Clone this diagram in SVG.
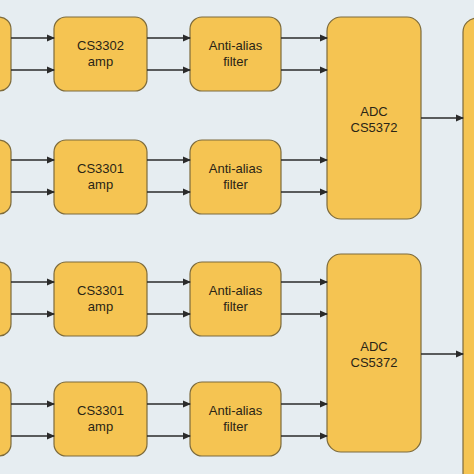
<svg xmlns="http://www.w3.org/2000/svg" width="474" height="474" viewBox="0 0 474 474">
<defs><marker id="a" markerWidth="8" markerHeight="8" refX="7" refY="4" orient="auto" markerUnits="userSpaceOnUse"><path d="M0,0.5 L8,4 L0,7.5 z" fill="#2a2a2a"/></marker></defs>
<style>.b{fill:#f5c452;stroke:#7d6b3c;stroke-width:1.2}.t{font-family:"Liberation Sans",Arial,sans-serif;font-size:13px;fill:#2a2416;text-anchor:middle}.c{stroke:#2a2a2a;stroke-width:1.4;fill:none;marker-end:url(#a)}</style>
<rect width="474" height="474" fill="#e6edf1"/>
<g id="in1"><rect class="b" x="-20" y="17" width="31" height="74" rx="12"/></g>
<g id="in2"><rect class="b" x="-20" y="140" width="31" height="74" rx="12"/></g>
<g id="in3"><rect class="b" x="-20" y="262" width="31" height="74" rx="12"/></g>
<g id="in4"><rect class="b" x="-20" y="382" width="31" height="74" rx="12"/></g>
<g id="amp1"><rect class="b" x="54" y="17" width="93" height="74" rx="12"/><text class="t" x="100.5" y="50">CS3302</text><text class="t" x="100.5" y="66">amp</text></g>
<g id="amp2"><rect class="b" x="54" y="140" width="93" height="74" rx="12"/><text class="t" x="100.5" y="173">CS3301</text><text class="t" x="100.5" y="189">amp</text></g>
<g id="amp3"><rect class="b" x="54" y="262" width="93" height="74" rx="12"/><text class="t" x="100.5" y="295">CS3301</text><text class="t" x="100.5" y="311">amp</text></g>
<g id="amp4"><rect class="b" x="54" y="382" width="93" height="74" rx="12"/><text class="t" x="100.5" y="415">CS3301</text><text class="t" x="100.5" y="431">amp</text></g>
<g id="f1"><rect class="b" x="190" y="17" width="91" height="74" rx="12"/><text class="t" x="235.5" y="50">Anti-alias</text><text class="t" x="235.5" y="66">filter</text></g>
<g id="f2"><rect class="b" x="190" y="140" width="91" height="74" rx="12"/><text class="t" x="235.5" y="173">Anti-alias</text><text class="t" x="235.5" y="189">filter</text></g>
<g id="f3"><rect class="b" x="190" y="262" width="91" height="74" rx="12"/><text class="t" x="235.5" y="295">Anti-alias</text><text class="t" x="235.5" y="311">filter</text></g>
<g id="f4"><rect class="b" x="190" y="382" width="91" height="74" rx="12"/><text class="t" x="235.5" y="415">Anti-alias</text><text class="t" x="235.5" y="431">filter</text></g>
<g id="adc1"><rect class="b" x="327" y="17" width="94" height="202" rx="14"/><text class="t" x="374" y="116">ADC</text><text class="t" x="374" y="132">CS5372</text></g>
<g id="adc2"><rect class="b" x="327" y="254" width="94" height="198" rx="14"/><text class="t" x="374" y="351">ADC</text><text class="t" x="374" y="367">CS5372</text></g>
<g id="right"><rect class="b" x="463" y="18" width="40" height="470" rx="14"/></g>
<g id="connectors">
<path class="c" d="M11,38H54"/><path class="c" d="M11,70H54"/><path class="c" d="M147,38H190"/><path class="c" d="M147,70H190"/><path class="c" d="M281,38H327"/><path class="c" d="M281,70H327"/>
<path class="c" d="M11,160H54"/><path class="c" d="M11,192H54"/><path class="c" d="M147,160H190"/><path class="c" d="M147,192H190"/><path class="c" d="M281,160H327"/><path class="c" d="M281,192H327"/>
<path class="c" d="M11,282H54"/><path class="c" d="M11,314H54"/><path class="c" d="M147,282H190"/><path class="c" d="M147,314H190"/><path class="c" d="M281,282H327"/><path class="c" d="M281,314H327"/>
<path class="c" d="M11,404H54"/><path class="c" d="M11,436H54"/><path class="c" d="M147,404H190"/><path class="c" d="M147,436H190"/><path class="c" d="M281,404H327"/><path class="c" d="M281,436H327"/>
<path class="c" d="M421,118H463"/><path class="c" d="M421,354H463"/>
</g>
</svg>
